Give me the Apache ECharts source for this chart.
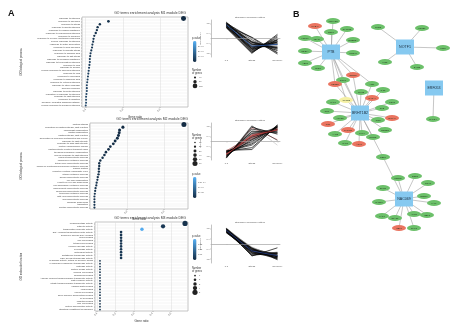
<!DOCTYPE html>
<html><head><meta charset="utf-8">
<script src="https://cdn.jsdelivr.net/npm/echarts@6/dist/echarts.min.js"></script>
<style>html,body{margin:0;padding:0;background:#fff}#c{width:474px;height:325px}</style>
</head><body><div id="c"></div>
<script>
// ---------------- DATA ----------------
const m1Terms = ["response to stimulus","response to chemical","response to stress","response to abiotic stimulus","response to organic substance","response to endogenous stimulus","response to hormone","response to oxygen-containing compound","cellular response to stimulus","response to water deprivation","response to acid chemical","response to osmotic stress","response to abscisic acid","response to salt stress","response to inorganic substance","response to temperature stimulus","response to lipid","response to alcohol","cellular response to chemical stimulus","response to cold","response to wounding","response to jasmonic acid","response to external stimulus","response to other organism","defense response","response to biotic stimulus","regulation of response to stimulus","response to light stimulus","response to radiation","hormone-mediated signaling pathway","cellular response to hormone stimulus"];
const m1Ratio = [0.363,0.161,0.138,0.132,0.130,0.127,0.123,0.121,0.120,0.118,0.117,0.115,0.113,0.112,0.111,0.111,0.110,0.109,0.108,0.107,0.106,0.105,0.104,0.103,0.103,0.103,0.102,0.101,0.101,0.101,0.100];
const m1Count = [131,58,50,48,47,46,44,44,43,42,42,41,41,40,40,40,40,39,39,39,38,38,37,37,37,37,37,36,36,36,36];
const m1P = [1e-12,2e-5,2e-5,2e-5,2e-5,2.5e-5,2.5e-5,3e-5,3e-5,3.5e-5,3.5e-5,4e-5,4e-5,4.5e-5,4.5e-5,5e-5,5e-5,5.5e-5,5.5e-5,6e-5,6e-5,6.5e-5,6.5e-5,7e-5,7e-5,7.5e-5,7.5e-5,8e-5,8e-5,8.5e-5,8.5e-5];

const m2Terms = ["photosynthesis","regulation of photosynthesis, light reaction","chloroplast organization","plastid organization","photosynthesis, light reaction","generation of precursor metabolites and energy","response to light intensity","response to high light intensity","protein-chromophore linkage","photosynthetic electron transport chain","thylakoid membrane organization","cellular response to light stimulus","pigment biosynthetic process","chlorophyll metabolic process","tetrapyrrole biosynthetic process","porphyrin-containing compound metabolic process","carbon fixation","reductive pentose-phosphate cycle","starch metabolic process","glucan biosynthetic process","cell wall organization","plant-type cell wall biogenesis","polysaccharide metabolic process","carbohydrate biosynthetic process","isoprenoid biosynthetic process","terpenoid metabolic process","fatty acid biosynthetic process","lipid biosynthetic process","ribosome biogenesis","translation","peptide biosynthetic process"];
const m2Ratio = [0.354,0.189,0.180,0.179,0.177,0.174,0.168,0.163,0.155,0.150,0.143,0.139,0.134,0.128,0.125,0.125,0.124,0.124,0.123,0.121,0.120,0.118,0.117,0.115,0.114,0.113,0.112,0.112,0.112,0.112,0.112];
const m2Count = [60,32,31,30,30,30,29,28,26,26,24,24,23,22,21,21,21,21,21,21,20,20,20,20,19,19,19,19,19,19,19];
const m2P = [1e-15,1e-6,2e-6,2e-6,3e-6,3e-6,4e-6,4e-6,5e-6,5e-6,6e-6,6e-6,7e-6,7e-6,8e-6,8e-6,9e-6,9e-6,1e-5,1e-5,1.1e-5,1.1e-5,1.2e-5,1.2e-5,1.3e-5,1.3e-5,1.4e-5,1.4e-5,1.5e-5,1.5e-5,1.6e-5];

const m3Terms = ["oxidoreductase activity","catalytic activity","transcription regulator activity","DNA-binding transcription factor activity","sequence-specific DNA binding","heme binding","iron ion binding","tetrapyrrole binding","monooxygenase activity","peroxidase activity","antioxidant activity","glutathione transferase activity","UDP-glycosyltransferase activity","hydrolase activity, acting on glycosyl bonds","xyloglucan:xyloglucosyl transferase activity","chitinase activity","protein kinase activity","calcium ion binding","calmodulin binding","ATPase-coupled transmembrane transporter activity","water channel activity","nitrate transmembrane transporter activity","carbohydrate binding","lipid binding","coenzyme binding","flavin adenine dinucleotide binding","NAD binding","cofactor binding","zinc ion binding","protein dimerization activity","structural constituent of ribosome"];
const m3Ratio = [0.576,0.457,0.343,0.230,0.230,0.230,0.230,0.230,0.230,0.230,0.230,0.230,0.230,0.116,0.116,0.116,0.116,0.116,0.116,0.116,0.116,0.116,0.116,0.116,0.116,0.116,0.116,0.116,0.116,0.116,0.116];
const m3Count = [5,4,3,2,2,2,2,2,2,2,2,2,2,1,1,1,1,1,1,1,1,1,1,1,1,1,1,1,1,1,1];
const m3P = [0.002,0.004,0.038,0.003,0.003,0.003,0.003,0.003,0.004,0.004,0.004,0.004,0.004,0.002,0.002,0.002,0.002,0.002,0.002,0.002,0.002,0.002,0.002,0.002,0.002,0.002,0.002,0.002,0.002,0.002,0.002];

const timeLabels = ["0 h","Stress","Recovery"];
const timeX = [1,2,3];
const m1Lines = [[1.30,-0.40,-0.90],[1.25,-0.55,-0.70],[1.20,-0.20,-1.00],[1.15,-0.70,-0.45],[1.10,-0.35,-0.75],[1.05,-0.85,-0.20],[1.00,-0.60,-0.40],[0.95,-1.00,0.05],[0.90,-0.45,-0.45],[1.28,-0.10,-1.18],[1.18,-0.75,-0.43],[1.08,-0.95,-0.13],[0.98,-1.10,0.12],[1.22,0.05,-1.27],[1.12,-0.25,-0.87],[1.02,-0.50,-0.52],[0.92,-1.15,0.23],[1.33,-0.65,-0.68],[1.14,-0.85,-0.29],[1.06,-0.30,-0.76],[0.88,-0.80,-0.08],[1.24,-0.45,-0.79],[1.16,-1.05,-0.11],[0.96,-0.70,-0.26],[1.27,-0.30,-0.97],[1.04,0.10,-1.14],[0.86,-1.20,0.34],[1.19,-0.90,-0.29]];
const m1Mean = [1.12,-0.62,-0.48];
const m2Lines = [[-1.30,1.30,-0.30],[-1.25,1.10,0.15],[-1.20,0.60,0.95],[-1.15,0.30,1.10],[-1.10,0.80,0.80],[-1.05,0.10,1.20],[-1.00,0.50,1.00],[-0.95,-0.10,1.30],[-0.90,0.70,0.90],[-0.85,0.20,1.05],[-0.80,-0.30,1.25],[-0.75,0.40,0.95],[-1.35,1.25,0.10],[-1.28,1.00,0.75],[-1.18,0.45,1.15],[-1.08,0.65,0.85],[-0.98,0.25,1.10],[-0.88,0.00,1.20],[-0.78,-0.50,1.30],[-1.22,0.85,0.70],[-1.12,0.15,1.15],[-1.02,0.55,0.95],[-0.92,0.35,1.00],[-0.82,-0.20,1.20],[-1.32,1.15,0.60],[-0.72,-0.65,1.35]];
const m2Mean = [-1.05,0.45,0.95];
const m3Lines = [[1.25,-0.30,-0.95],[1.20,-0.45,-0.75],[1.15,-0.60,-0.85],[1.10,-0.25,-1.05],[1.05,-0.70,-0.70],[1.00,-0.40,-1.15],[0.95,-0.80,-0.65],[0.90,-0.55,-1.20],[1.22,-0.35,-0.87],[1.12,-0.50,-0.92],[1.02,-0.65,-0.97],[0.92,-0.30,-1.25],[1.18,-0.75,-0.80],[1.08,-0.85,-0.75],[0.98,-0.45,-1.02],[0.88,-0.60,-0.90],[1.24,-0.55,-1.10],[1.14,-0.40,-0.98],[1.04,-0.90,-0.68],[0.94,-0.70,-1.08],[1.16,-0.60,-1.00],[1.06,-0.35,-1.18],[0.96,-0.50,-0.78],[1.20,-0.95,-0.30]];
const m3Mean = [1.08,-0.55,-0.92];

// Network: hubs and satellite genes (name, kind)
const hubNames = ["PTB","NOTF1","ERF053","BRHT1B2","NAC069"];
const geneNames = ["MYB44","WRKY33","NAC072","ERF1","HSP70","LEA14","DREB2A","RD29A","COR47","ABF3","PP2C",
  "SnRK2","CIPK6","bZIP23",
  "GolS2","P5CS1","LTP3","KIN1","ZAT12",
  "RAP2.4",
  "HB7","MYC2","JAZ1","ATHB12","GASA4","LOX2","PAL1","CHS","PR1","XTH22","EXPA8","PIP2","TIP1","NCED3","CYP707","AAO3","PYL4","RbohD","CAT2","APX1","GSTU",
  "POD12","SOD1","GPX6","DHN1","ERD10","RAB18","HAI1","KAT1","SLAC1","ALMT","OST1","CBL1","NHX1"];
const geneKind = ["up","dn","dn","dn","dn","dn","dn","dn","dn","dn","dn",
  "up","dn","up",
  "dn","dn","dn","dn","dn",
  "dn",
  "dn","dn","dn","tf","up","dn","dn","dn","dn","dn","up","dn","up","dn","up","dn","dn","dn","dn","up","dn",
  "dn","dn","dn","dn","dn","dn","dn","dn","dn","dn","dn","up","dn"];
const linkPairs = [
  ["PTB","MYB44"],["PTB","WRKY33"],["PTB","NAC072"],["PTB","ERF1"],["PTB","HSP70"],["PTB","LEA14"],["PTB","DREB2A"],["PTB","RD29A"],["PTB","COR47"],["PTB","ABF3"],["PTB","PP2C"],
  ["PTB","SnRK2"],["PTB","CIPK6"],["PTB","bZIP23"],["PTB","BRHT1B2"],["PTB","ATHB12"],["PTB","HB7"],
  ["BRHT1B2","SnRK2"],["BRHT1B2","CIPK6"],["BRHT1B2","bZIP23"],
  ["NOTF1","GolS2"],["NOTF1","P5CS1"],["NOTF1","LTP3"],["NOTF1","KIN1"],["NOTF1","ZAT12"],
  ["ERF053","RAP2.4"],
  ["BRHT1B2","HB7"],["BRHT1B2","MYC2"],["BRHT1B2","JAZ1"],["BRHT1B2","ATHB12"],["BRHT1B2","GASA4"],["BRHT1B2","LOX2"],["BRHT1B2","PAL1"],["BRHT1B2","CHS"],["BRHT1B2","PR1"],["BRHT1B2","XTH22"],["BRHT1B2","EXPA8"],["BRHT1B2","PIP2"],["BRHT1B2","TIP1"],["BRHT1B2","NCED3"],["BRHT1B2","CYP707"],["BRHT1B2","AAO3"],["BRHT1B2","PYL4"],["BRHT1B2","RbohD"],["BRHT1B2","CAT2"],["BRHT1B2","APX1"],["BRHT1B2","GSTU"],
  ["NAC069","GSTU"],["NAC069","POD12"],["NAC069","SOD1"],["NAC069","GPX6"],["NAC069","DHN1"],["NAC069","ERD10"],["NAC069","RAB18"],["NAC069","HAI1"],["NAC069","KAT1"],["NAC069","SLAC1"],["NAC069","ALMT"],["NAC069","OST1"],["NAC069","CBL1"],["NAC069","NHX1"]
];
// layout positions of the network drawing (pixels of the original figure)
const hubLayout = [[331,52],[405,47],[434,88],[360,113],[404,199]];
const geneLayout = [[315,26],[333,21],[347,29],[331,32],[305,38],[317,39],[353,40],[305,51],[353,53],[305,63],[318,68],
  [353,75],[343,80],[335,84],
  [378,27],[422,28],[443,48],[385,62],[417,67],
  [433,119],
  [372,84],[361,92],[383,90],[346,100],[372,98],[392,102],[333,102],[382,108],[327,111],[340,118],[392,118],[378,120],[328,124],[385,130],[348,130],[335,134],[362,133],[373,137],[345,143],[359,144],[383,157],
  [398,178],[415,176],[428,183],[383,188],[424,196],[379,202],[434,203],[382,216],[395,218],[414,214],[427,215],[399,228],[414,228]];

// ---------------- CHART ----------------
const FONT = "Liberation Sans, Arial, sans-serif";
const chart = echarts.init(document.getElementById('c'));
const dotGrids = [
  {left:82, top:17, width:106, height:90},
  {left:90, top:123, width:98, height:86},
  {left:95, top:222, width:93, height:89}
];
const lineGrids = [
  {left:211, top:20, width:69, height:37},
  {left:211, top:123, width:69, height:37},
  {left:211, top:225, width:69, height:38}
];
const grids = [];
dotGrids.forEach(g => grids.push(Object.assign({show:true, borderColor:'#8a8a8a', borderWidth:0.5, backgroundColor:'#fff'}, g)));
lineGrids.forEach(g => grids.push(Object.assign({show:false}, g)));
grids.push({left:0, top:0, width:474, height:325, show:false});

const dotX = [
  {min:0.09, max:0.375, ticks:[0.1,0.2,0.3]},
  {min:0.1, max:0.365, ticks:[0.2,0.3]},
  {min:0.089, max:0.592, ticks:[0.1,0.2,0.3,0.4,0.5]}
];
const yNames = ["GO biological process","GO biological process","GO molecular function"];
const xAxes = [], yAxes = [];
dotX.forEach((d,i) => {
  xAxes.push({type:'value', gridIndex:i, min:d.min, max:d.max,
    name:'Gene ratio', nameLocation:'middle', nameGap:8, nameTextStyle:{fontSize:3, color:'#333', fontFamily:FONT},
    axisLine:{show:false},
    axisTick:{show:true, length:1, customValues:d.ticks, lineStyle:{color:'#666', width:0.4}},
    axisLabel:{customValues:d.ticks, fontSize:2.6, rotate:45, margin:2, color:'#444', fontFamily:FONT, formatter:v=>v.toFixed(1)},
    splitLine:{show:true, lineStyle:{color:'#dcdcdc', width:0.5}}});
});
[m1Terms,m2Terms,m3Terms].forEach((terms,i) => {
  yAxes.push({type:'category', gridIndex:i, data:terms, inverse:true,
    name:yNames[i], nameLocation:'middle', nameRotate:90, nameGap:dotGrids[i].left-23,
    nameTextStyle:{fontSize:2.8, color:'#333', fontFamily:FONT},
    axisLine:{show:false}, axisTick:{show:true, length:1, alignWithLabel:true, lineStyle:{color:'#666', width:0.4}},
    axisLabel:{interval:0, fontSize:2.3, margin:2, color:'#444', fontFamily:FONT},
    splitLine:{show:true, lineStyle:{color:'#e2e2e2', width:0.4}}});
});
lineGrids.forEach((g,i) => {
  xAxes.push({type:'value', gridIndex:3+i, min:0.4, max:3.1,
    axisLine:{show:true, lineStyle:{color:'#888', width:0.5}},
    axisTick:{show:true, length:1, customValues:timeX, lineStyle:{color:'#888', width:0.4}},
    axisLabel:{customValues:timeX, fontSize:2.4, margin:2, color:'#555', fontFamily:FONT, formatter:v=>timeLabels[Math.round(v)-1]||''},
    splitLine:{show:false}});
  yAxes.push({type:'value', gridIndex:3+i, min:-1.5, max:1.5,
    name:'Expression', nameLocation:'middle', nameRotate:90, nameGap:7, nameTextStyle:{fontSize:2.4, color:'#555', fontFamily:FONT},
    axisLine:{show:true, lineStyle:{color:'#888', width:0.5}},
    axisTick:{show:true, length:1, customValues:[-1.2,-0.4,0.4,1.2], lineStyle:{color:'#888', width:0.4}},
    axisLabel:{customValues:[-1.2,-0.4,0.4,1.2], fontSize:2.2, margin:1.5, color:'#555', fontFamily:FONT},
    splitLine:{show:false}});
});
xAxes.push({type:'value', gridIndex:6, min:0, max:474, show:false});
yAxes.push({type:'value', gridIndex:6, min:0, max:325, inverse:true, show:false});

const series = [];
const sizeFns = [c => 0.9 + c/32, c => 0.9 + c/14.6, c => 0.9 + c*0.85];
[[m1Terms,m1Ratio,m1Count,m1P],[m2Terms,m2Ratio,m2Count,m2P],[m3Terms,m3Ratio,m3Count,m3P]].forEach((d,i) => {
  series.push({type:'scatter', xAxisIndex:i, yAxisIndex:i, silent:true,
    data:d[0].map((t,k)=>[d[1][k], t, d[3][k], d[2][k]]),
    encode:{x:0, y:1},
    symbolSize:v=>sizeFns[i](v[3]), itemStyle:{opacity:1}, z:5});
});
// line bundles
[[m1Lines,m1Mean,'#2f5fb3'],[m2Lines,m2Mean,'#c23a3a'],[m3Lines,m3Mean,'#27408b']].forEach((d,i) => {
  const lines = d[0], n = lines.length;
  lines.forEach((vals,k) => {
    const t = k/(n-1);
    const g = Math.round(200*Math.pow(1-t,2.6));
    let col = `rgb(${g},${g},${g})`;
    if (i===1 && (k%5===1)) col = `rgb(${Math.min(255,g+150)},${Math.round(g*0.6+60)},${Math.round(g*0.6+60)})`;
    const s = {type:'line', xAxisIndex:3+i, yAxisIndex:3+i, silent:true, symbol:'none',
      data:vals.map((v,j)=>[timeX[j], v]), lineStyle:{width:0.7, color:col}, z:2};
    if (k===0) s.markLine = {silent:true, symbol:'none', label:{show:false}, lineStyle:{color:'#bbb', width:0.5, type:'solid'}, data:[{yAxis:0}]};
    series.push(s);
  });
  series.push({type:'line', xAxisIndex:3+i, yAxisIndex:3+i, silent:true, symbol:'none',
    data:d[1].map((v,j)=>[timeX[j], v]), lineStyle:{width:0.8, color:d[2]}, z:3});
});
// network
const nodes = [];
hubNames.forEach((h,i)=> nodes.push({name:h, value:hubLayout[i], symbol:'rect', symbolSize:[18,15],
  itemStyle:{color:'#86c9f0'}, label:{show:true, fontSize:3.6, color:'#1a2a3a', fontFamily:FONT}}));
const kindColor = {up:'#ea7460', dn:'#6cc06a', tf:'#f5f0a4'};
geneNames.forEach((g,i)=> nodes.push({name:g, value:geneLayout[i], symbol:'circle', symbolSize:[14,6],
  itemStyle:{color:kindColor[geneKind[i]]}, label:{show:true, fontSize:2.2, color:'#23361f', fontFamily:FONT}}));
series.push({type:'graph', coordinateSystem:'cartesian2d', xAxisIndex:6, yAxisIndex:6, layout:'none', silent:true,
  data:nodes, links:linkPairs.map(p=>({source:p[0], target:p[1]})),
  label:{show:true, position:'inside'}, edgeSymbol:['none','none'],
  lineStyle:{color:'#a0a0a0', width:0.6, opacity:1, curveness:0}, z:4});

// visual maps for p.value
const pRanges = [[0,4e-4],[0,2e-4],[0,0.04]];
const barTops = [41,177,239];
const visualMaps = pRanges.map((r,i)=>({type:'continuous', seriesIndex:i, dimension:2, min:r[0], max:r[1],
  inRange:{color:['#132B43','#56B1F7']}, left:193, top:barTops[i], itemWidth:3.5, itemHeight:21,
  padding:0, calculable:false, text:null, showLabel:false, hoverLink:false, textStyle:{fontSize:1}}));

// graphic: titles, panel letters, legends
const G = [];
function txt(x,y,t,fs,opt){G.push({type:'text', x:x, y:y, silent:true, style:Object.assign({text:t, fontSize:fs, fill:'#333', fontFamily:FONT, align:'left', verticalAlign:'middle'}, opt||{})});}
txt(8,14,'A',9,{fontWeight:'bold', fill:'#111'});
txt(293,15,'B',9,{fontWeight:'bold', fill:'#111'});
txt(150,13,'GO terms enrichment analysis M1 module DEG',3.4,{align:'center'});
txt(152,119,'GO terms enrichment analysis M2 module DEG',3.4,{align:'center'});
txt(150,218,'GO terms enrichment analysis M3 module DEG',3.4,{align:'center'});
[17,120,222].forEach(y=>txt(250,y,'Standard expression pattern',2.4,{align:'center', fill:'#555'}));
// p.value legends
const pTicks = [["1e-04","2e-04","3e-04"],["5e-05","1e-04","1.5e-04"],["0.01","0.02","0.03"]];
const pTickVals = [[1e-4,2e-4,3e-4],[5e-5,1e-4,1.5e-4],[0.01,0.02,0.03]];
pRanges.forEach((r,i)=>{
  txt(192,barTops[i]-3,'p.value',2.6);
  pTickVals[i].forEach((v,k)=>{
    const y = barTops[i] + (1-(v-r[0])/(r[1]-r[0]))*21;
    txt(198,y,pTicks[i][k],2.2,{fill:'#555'});
  });
});
// number of genes legends
const nLegend = [
  {vals:[40,80,120], top:70, fn:sizeFns[0]},
  {vals:[10,20,30,40,50,60], top:135, fn:sizeFns[1]},
  {vals:[1,2,3,4,5], top:268, fn:sizeFns[2]}
];
nLegend.forEach(L=>{
  txt(192,L.top,'Number',2.6); txt(192,L.top+3,'of genes',2.6);
  L.vals.forEach((v,k)=>{
    const y = L.top + 7.5 + k*4.2;
    G.push({type:'circle', silent:true, shape:{cx:195, cy:y, r:L.fn(v)/2}, style:{fill:'#222'}});
    txt(199,y,String(v),2.2,{fill:'#555'});
  });
});

chart.setOption({
  animation:false, backgroundColor:'#fff',
  grid:grids, xAxis:xAxes, yAxis:yAxes, series:series, visualMap:visualMaps, graphic:G
});
</script>
</body></html>
